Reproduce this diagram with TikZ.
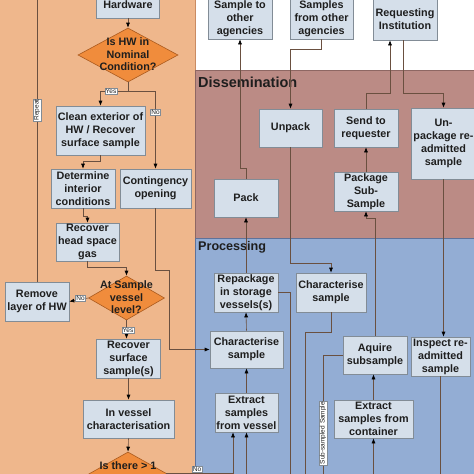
\documentclass[tikz,border=0pt]{standalone}
\usepackage{fontspec}
\setmainfont{Liberation Sans}
\usetikzlibrary{shapes.geometric,arrows.meta,calc}
\definecolor{orangeBg}{HTML}{EFB78C}
\definecolor{orangeEdge}{HTML}{C98B62}
\definecolor{dissBg}{HTML}{BB8B85}
\definecolor{dissEdge}{HTML}{8E6763}
\definecolor{procBg}{HTML}{93ADD4}
\definecolor{procEdge}{HTML}{5E729A}
\definecolor{boxfill}{HTML}{D5DFEA}
\definecolor{boxline}{HTML}{828C96}
\definecolor{diaFill}{HTML}{F08C3C}
\definecolor{diaLine}{HTML}{AA5A1E}
\definecolor{lineC}{HTML}{6A5040}
\definecolor{txt}{HTML}{1E1E1E}
\begin{document}
\begin{tikzpicture}[x=1pt,y=-1pt,
  box/.style={draw=boxline, fill=boxfill, line width=0.6pt, align=center, inner sep=0pt,
    font=\fontsize{10.8}{13}\selectfont\bfseries, text=txt},
  dia/.style={diamond, draw=diaLine, fill=diaFill, line width=0.6pt, inner sep=0pt},
  dtext/.style={align=center, inner sep=0pt, font=\fontsize{10.8}{12.5}\selectfont\bfseries, text=txt},
  conn/.style={draw=lineC, line width=0.6pt, -{Latex[length=5pt,width=4pt,black]}},
  plain/.style={draw=lineC, line width=0.6pt},
  lab/.style={fill=white, draw=boxline, line width=0.2pt, inner sep=0.9pt, font=\fontsize{6.5}{7.5}\selectfont, text=txt},
  band/.style={font=\fontsize{14.5}{16}\selectfont\bfseries, text=txt, anchor=west, inner sep=0pt}]
\useasboundingbox (0,0) rectangle (474,474);
\clip (0,0) rectangle (474,474);
% backgrounds
\fill[orangeBg] (0,0) rectangle (195,474);
\draw[orangeEdge, line width=0.8pt] (195,0) -- (195,474);
\fill[dissBg] (195,70) rectangle (480,238);
\draw[dissEdge, line width=0.8pt] (195.5,70) -- (480,70) (195.5,70) -- (195.5,238);
\fill[procBg] (195,238) rectangle (480,480);
\draw[procEdge, line width=1.4pt] (195,238.5) -- (480,238.5);
\draw[procEdge, line width=0.8pt] (195.5,238) -- (195.5,480);
\node[band] (tdiss) at (198,82) {Dissemination};
\node[band, font=\fontsize{12.6}{14}\selectfont\bfseries] (tproc) at (198,247) {Processing};

% left column
\node[box, minimum width=63pt, minimum height=26pt] (hw) at (128,5) {Hardware};
\node[dia, minimum width=100pt, minimum height=54pt] (d1) at (128,55) {};
\node[dtext] (d1t) at (128,54.5) {Is HW in\\Nominal\\Condition?};
\node[box, minimum width=89pt, minimum height=49pt] (clean) at (100.5,130.5) {Clean exterior of\\HW / Recover\\surface sample};
\node[box, minimum width=64pt, minimum height=39pt] (det) at (83,188.5) {Determine\\interior\\conditions};
\node[box, minimum width=71pt, minimum height=39pt] (cont) at (155.5,188.5) {Contingency\\opening};
\node[box, minimum width=63pt, minimum height=38pt] (rhead) at (87.5,242) {Recover\\head space\\gas};
\node[dia, minimum width=76pt, minimum height=44pt] (d2) at (126.5,298) {};
\node[dtext] (d2t) at (126.5,297.5) {At Sample\\vessel\\level?};
\node[box, minimum width=64pt, minimum height=39pt] (remove) at (37,301.5) {Remove\\layer of HW};
\node[box, minimum width=64pt, minimum height=39pt] (rsurf) at (128.5,358.5) {Recover\\surface\\sample(s)};
\node[box, minimum width=91pt, minimum height=38pt] (invessel) at (128.5,419) {In vessel\\characterisation};
\node[dia, minimum width=100pt, minimum height=56pt] (d3) at (128,480) {};
\node[dtext] (d3t) at (128,466) {Is there > 1};

% top white area
\node[box, minimum width=64pt, minimum height=41pt] (sto) at (240,18.5) {Sample to\\other\\agencies};
\node[box, minimum width=63pt, minimum height=41pt] (sfrom) at (321.5,18.5) {Samples\\from other\\agencies};
\node[box, minimum width=64pt, minimum height=42pt] (req) at (405,19) {Requesting\\Institution};

% dissemination
\node[box, minimum width=63pt, minimum height=38pt] (unpack) at (290.5,128) {Unpack};
\node[box, minimum width=64pt, minimum height=38pt] (send) at (366,128) {Send to\\requester};
\node[box, minimum width=65pt, minimum height=71pt] (unpkg) at (443.5,143.5) {Un-\\package re-\\admitted\\sample};
\node[box, minimum width=64pt, minimum height=39pt] (pkgsub) at (366,191.5) {Package\\Sub-\\Sample};
\node[box, minimum width=64pt, minimum height=38pt] (pack) at (246,198) {Pack};

% processing
\node[box, minimum width=64pt, minimum height=39pt] (repack) at (246,292.5) {Repackage\\in storage\\vessels(s)};
\node[box, minimum width=70pt, minimum height=39pt] (charR) at (331,292.5) {Characterise\\sample};
\node[box, minimum width=73pt, minimum height=37pt] (charL) at (246.5,349.5) {Characterise\\sample};
\node[box, minimum width=64pt, minimum height=38pt] (aquire) at (375,355) {Aquire\\subsample};
\node[box, minimum width=59pt, minimum height=39pt] (inspect) at (440.5,356.5) {Inspect re-\\admitted\\sample};
\node[box, minimum width=63pt, minimum height=39pt] (exvessel) at (246.5,412.5) {Extract\\samples\\from vessel};
\node[box, minimum width=79pt, minimum height=38pt] (excont) at (373.5,419) {Extract\\samples from\\container};

% free ends below the picture
\coordinate (b1) at (246.5,480);
\coordinate (b2) at (290,480);
\coordinate (b3) at (305,480);
\coordinate (b4) at (323,480);
\coordinate (b5) at (373.5,480);
\coordinate (b6) at (443.5,480);
\coordinate (d3r) at ($(d3.north)!0.75!(d3.east)$);

% connectors left column
\draw[conn] (hw.south) -- (d1.north);
\draw[conn] (d1.south) -- (128,91) -| (clean.north);
\draw[conn] (d1.south) -- (128,91) -| (cont.north);
\draw[conn] (clean.south) -- ++(0,6) -| (det.north);
\draw[conn] (det.south) -- ++(0,8) -| (rhead.north);
\draw[conn] (rhead.south) -- ++(0,6) -| (d2.north);
\draw[conn] (cont.south) |- (169,270) |- (charL.west);
\draw[conn] (d2.west) -- (remove.east);
\draw[conn] (d2.south) -- (d2.south |- rsurf.north);
\draw[conn] (rsurf.south) -- (invessel.north);
\draw[conn] (invessel.south) -- (d3.north);
\draw[conn] (remove.north) |- ($(hw.north west)!0.2!(hw.south west)$);
\draw[conn] (d3r) -| ([xshift=-13.5pt]exvessel.south);
\node[lab] (lyes1) at (111,91) {Yes};
\node[lab] (lno1) at (155.5,112) {No};
\node[lab] (lno2) at (80.5,298) {No};
\node[lab] (lyes2) at (128,330) {Yes};
\node[lab, rotate=90] (lrep) at (37,110) {Repeat};
\node[lab] (lno3) at (197,469) {No};

% connectors right side
\draw[conn] (b1) -- (exvessel.south);
\draw[conn] (exvessel.north) -- (charL.south);
\draw[conn] (charL.north) -- (repack.south);
\draw[conn] (repack.north) -- (pack.south);
\draw[conn] (pack.north) -- ++(0,-10) -| (sto.south);
\draw[conn] (sfrom.south) -- ++(0,10) -| (unpack.north);
\draw[conn] (unpack.south) -- ++(0,116) -| (charR.north);
\draw[plain] (repack.east) -| (b2);
\draw[plain] (charR.south) -- ++(0,20) -| (b3);
\draw[plain] (aquire.west) -| (b4);
\node[lab, rotate=90] (lsub) at (323,433) {Sub-sampled Sample};
\draw[conn] (excont.north) -- (excont.north |- aquire.south);
\draw[conn] (b5) -- (excont.south);
\draw[conn] (aquire.north) -- ++(0,-117) -| (pkgsub.south);
\draw[conn] (pkgsub.north) -- (send.south);
\draw[conn] (send.north) -- ++(0,-15) -| ([xshift=-15pt]req.south);
\draw[conn] ([xshift=-2pt]req.south) -- ++(0,53) -| (unpkg.north);
\draw[conn] (unpkg.south) -- (unpkg.south |- inspect.north);
\draw[plain] (inspect.south) -- (inspect.south |- b6);
\end{tikzpicture}
\end{document}
